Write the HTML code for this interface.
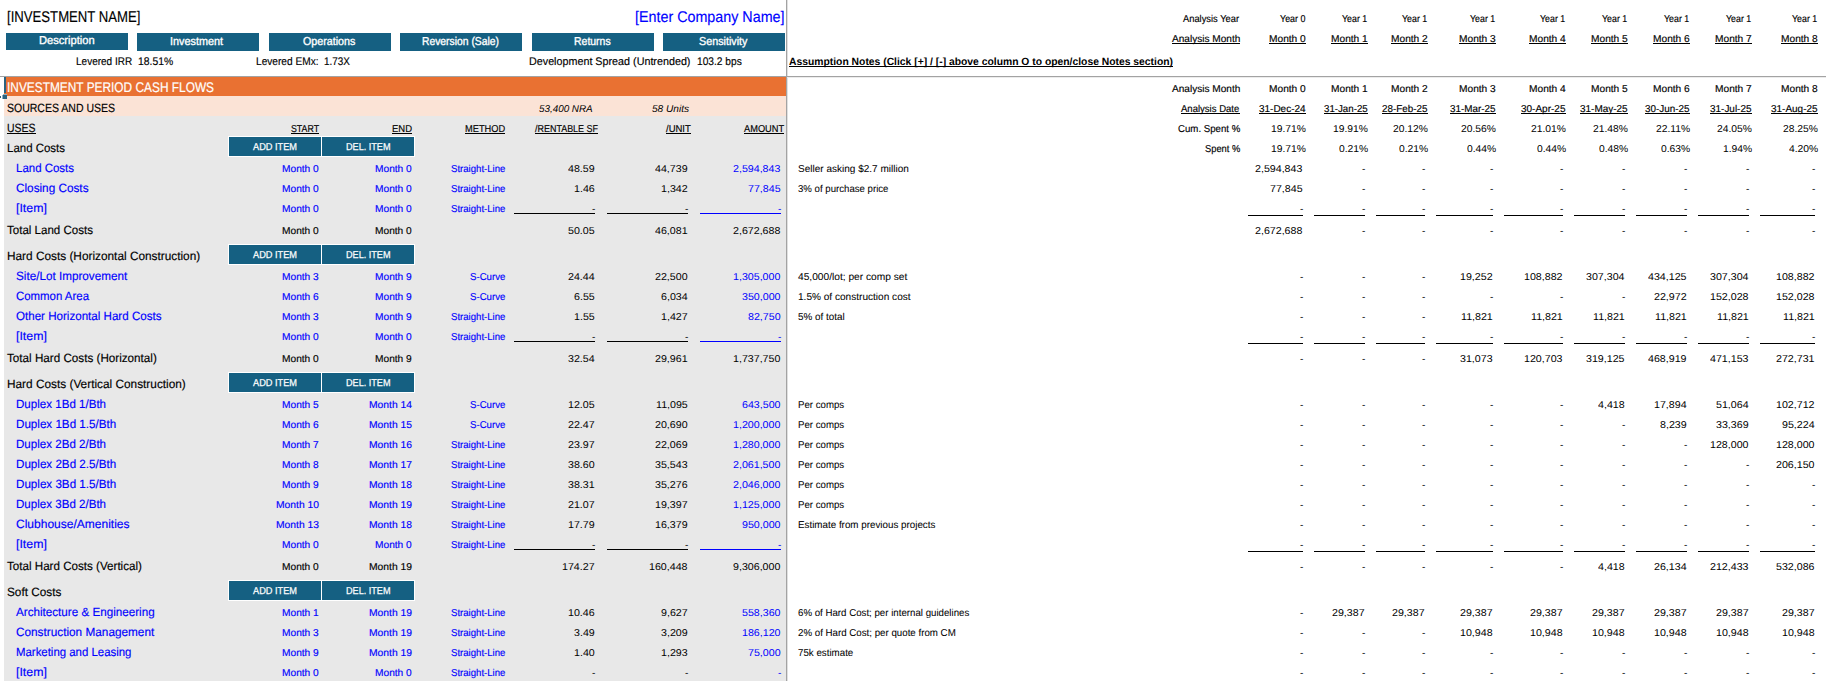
<!DOCTYPE html><html><head><meta charset="utf-8"><title>Investment Period Cash Flows</title><style>
html,body{margin:0;padding:0;background:#fff;}body{width:1826px;height:681px;position:relative;overflow:hidden;font-family:"Liberation Sans",sans-serif;text-rendering:geometricPrecision;}
.r{position:absolute;}.t{position:absolute;white-space:pre;line-height:1;transform-origin:0 0;}
</style></head><body>
<div class="r" style="left:4px;top:77px;width:782px;height:19px;background:#e97132"></div>
<div class="r" style="left:4px;top:96px;width:782px;height:20px;background:#fbe3d6"></div>
<div class="r" style="left:4px;top:116px;width:782px;height:565px;background:#e8e8e8"></div>
<div class="r" style="left:786px;top:0px;width:1px;height:681px;background:#a3a3a3"></div>
<div class="r" style="left:787px;top:0px;width:1px;height:681px;background:#e0e0e0"></div>
<div class="r" style="left:0px;top:76px;width:1826px;height:1px;background:#a3a3a3"></div>
<div class="r" style="left:787px;top:77px;width:1039px;height:1px;background:#ececec"></div>
<div class="r" style="left:4px;top:77px;width:1.9px;height:15.7px;background:#2b6380"></div>
<div class="r" style="left:2px;top:93.7px;width:5.2px;height:5.3px;background:#ffffff"></div>
<div class="r" style="left:3px;top:95px;width:4px;height:4px;background:#2b6380"></div>
<div class="r" style="left:2px;top:95px;width:1px;height:4px;background:#8fb0c2"></div>
<div class="r" style="left:3px;top:94px;width:4px;height:1px;background:#8fb0c2"></div>
<div class="r" style="left:0px;top:96.2px;width:0.6px;height:1.5px;background:#2b6380"></div>
<div class="r" style="left:6px;top:33px;width:122px;height:17px;background:#156082"></div>
<div class="r" style="left:137px;top:33px;width:122px;height:18px;background:#156082"></div>
<div class="r" style="left:269px;top:33px;width:122px;height:18px;background:#156082"></div>
<div class="r" style="left:400px;top:33px;width:122px;height:18px;background:#156082"></div>
<div class="r" style="left:532px;top:33px;width:122px;height:18px;background:#156082"></div>
<div class="r" style="left:663px;top:33px;width:122px;height:18px;background:#156082"></div>
<div class="r" style="left:228px;top:136px;width:187px;height:21px;background:#fff"></div>
<div class="r" style="left:229px;top:137px;width:92px;height:19px;background:#156082"></div>
<div class="r" style="left:322px;top:137px;width:92px;height:19px;background:#156082"></div>
<div class="r" style="left:514px;top:213px;width:81px;height:1px;background:#000"></div>
<div class="r" style="left:607px;top:213px;width:81px;height:1px;background:#000"></div>
<div class="r" style="left:700px;top:213px;width:81px;height:1px;background:#0000ff"></div>
<div class="r" style="left:1248px;top:215px;width:55px;height:1px;background:#000"></div>
<div class="r" style="left:1314px;top:215px;width:51px;height:1px;background:#000"></div>
<div class="r" style="left:1376px;top:215px;width:49px;height:1px;background:#000"></div>
<div class="r" style="left:1436px;top:215px;width:57px;height:1px;background:#000"></div>
<div class="r" style="left:1504px;top:215px;width:59px;height:1px;background:#000"></div>
<div class="r" style="left:1574px;top:215px;width:51px;height:1px;background:#000"></div>
<div class="r" style="left:1636px;top:215px;width:51px;height:1px;background:#000"></div>
<div class="r" style="left:1698px;top:215px;width:51px;height:1px;background:#000"></div>
<div class="r" style="left:1760px;top:215px;width:55px;height:1px;background:#000"></div>
<div class="r" style="left:228px;top:244px;width:187px;height:21px;background:#fff"></div>
<div class="r" style="left:229px;top:245px;width:92px;height:19px;background:#156082"></div>
<div class="r" style="left:322px;top:245px;width:92px;height:19px;background:#156082"></div>
<div class="r" style="left:514px;top:341px;width:81px;height:1px;background:#000"></div>
<div class="r" style="left:607px;top:341px;width:81px;height:1px;background:#000"></div>
<div class="r" style="left:700px;top:341px;width:81px;height:1px;background:#0000ff"></div>
<div class="r" style="left:1248px;top:343px;width:55px;height:1px;background:#000"></div>
<div class="r" style="left:1314px;top:343px;width:51px;height:1px;background:#000"></div>
<div class="r" style="left:1376px;top:343px;width:49px;height:1px;background:#000"></div>
<div class="r" style="left:1436px;top:343px;width:57px;height:1px;background:#000"></div>
<div class="r" style="left:1504px;top:343px;width:59px;height:1px;background:#000"></div>
<div class="r" style="left:1574px;top:343px;width:51px;height:1px;background:#000"></div>
<div class="r" style="left:1636px;top:343px;width:51px;height:1px;background:#000"></div>
<div class="r" style="left:1698px;top:343px;width:51px;height:1px;background:#000"></div>
<div class="r" style="left:1760px;top:343px;width:55px;height:1px;background:#000"></div>
<div class="r" style="left:228px;top:372px;width:187px;height:21px;background:#fff"></div>
<div class="r" style="left:229px;top:373px;width:92px;height:19px;background:#156082"></div>
<div class="r" style="left:322px;top:373px;width:92px;height:19px;background:#156082"></div>
<div class="r" style="left:514px;top:549px;width:81px;height:1px;background:#000"></div>
<div class="r" style="left:607px;top:549px;width:81px;height:1px;background:#000"></div>
<div class="r" style="left:700px;top:549px;width:81px;height:1px;background:#0000ff"></div>
<div class="r" style="left:1248px;top:551px;width:55px;height:1px;background:#000"></div>
<div class="r" style="left:1314px;top:551px;width:51px;height:1px;background:#000"></div>
<div class="r" style="left:1376px;top:551px;width:49px;height:1px;background:#000"></div>
<div class="r" style="left:1436px;top:551px;width:57px;height:1px;background:#000"></div>
<div class="r" style="left:1504px;top:551px;width:59px;height:1px;background:#000"></div>
<div class="r" style="left:1574px;top:551px;width:51px;height:1px;background:#000"></div>
<div class="r" style="left:1636px;top:551px;width:51px;height:1px;background:#000"></div>
<div class="r" style="left:1698px;top:551px;width:51px;height:1px;background:#000"></div>
<div class="r" style="left:1760px;top:551px;width:55px;height:1px;background:#000"></div>
<div class="r" style="left:228px;top:580px;width:187px;height:21px;background:#fff"></div>
<div class="r" style="left:229px;top:581px;width:92px;height:19px;background:#156082"></div>
<div class="r" style="left:322px;top:581px;width:92px;height:19px;background:#156082"></div>
<span class="t" style="left:38.55px;top:36px;font-size:11.5px;color:#fff;transform:scaleX(0.9680);-webkit-text-stroke:0.35px #fff;">Description</span>
<span class="t" style="left:169.86px;top:37px;font-size:11.5px;color:#fff;transform:scaleX(0.9420);-webkit-text-stroke:0.35px #fff;">Investment</span>
<span class="t" style="left:302.90px;top:37px;font-size:11.5px;color:#fff;transform:scaleX(0.9309);-webkit-text-stroke:0.35px #fff;">Operations</span>
<span class="t" style="left:421.65px;top:37px;font-size:11.5px;color:#fff;transform:scaleX(0.8985);-webkit-text-stroke:0.35px #fff;">Reversion (Sale)</span>
<span class="t" style="left:573.75px;top:37px;font-size:11.5px;color:#fff;transform:scaleX(0.9107);-webkit-text-stroke:0.35px #fff;">Returns</span>
<span class="t" style="left:698.85px;top:37px;font-size:11.5px;color:#fff;transform:scaleX(0.9362);-webkit-text-stroke:0.35px #fff;">Sensitivity</span>
<span class="t" style="left:6.85px;top:10px;font-size:15.5px;color:#000;transform:scaleX(0.8480);-webkit-text-stroke:0.15px #000;">[INVESTMENT NAME]</span>
<span class="t" style="left:634.58px;top:10px;font-size:15.5px;color:#0000ff;transform:scaleX(0.9231);-webkit-text-stroke:0.15px #0000ff;">[Enter Company Name]</span>
<span class="t" style="left:75.90px;top:57px;font-size:11px;color:#000;transform:scaleX(0.9093);-webkit-text-stroke:0.15px #000;">Levered IRR</span>
<span class="t" style="left:137.90px;top:57px;font-size:11px;color:#000;transform:scaleX(0.9407);-webkit-text-stroke:0.15px #000;">18.51%</span>
<span class="t" style="left:256.20px;top:57px;font-size:11px;color:#000;transform:scaleX(0.9217);-webkit-text-stroke:0.15px #000;">Levered EMx:</span>
<span class="t" style="left:324.40px;top:57px;font-size:11px;color:#000;transform:scaleX(0.9011);-webkit-text-stroke:0.15px #000;">1.73X</span>
<span class="t" style="left:529.30px;top:57px;font-size:11px;color:#000;transform:scaleX(0.9779);-webkit-text-stroke:0.15px #000;">Development Spread (Untrended)</span>
<span class="t" style="left:696.70px;top:57px;font-size:11px;color:#000;transform:scaleX(0.9259);-webkit-text-stroke:0.15px #000;">103.2 bps</span>
<span class="t" style="left:789.10px;top:57px;font-size:10.5px;font-weight:bold;color:#000;transform:scaleX(0.9846);">Assumption Notes (Click [+] / [-] above column O to open/close Notes section)</span>
<div class="r" style="left:789px;top:66px;width:384px;height:1px;background:#000"></div>
<span class="t" style="left:6.75px;top:80px;font-size:14px;color:#fff;transform:scaleX(0.8485);-webkit-text-stroke:0.2px #fff;">INVESTMENT PERIOD CASH FLOWS</span>
<span class="t" style="left:6.80px;top:102px;font-size:12px;color:#000;transform:scaleX(0.8755);-webkit-text-stroke:0.15px #000;">SOURCES AND USES</span>
<span class="t" style="left:538.90px;top:105px;font-size:10px;font-style:italic;color:#000;transform:scaleX(0.9853);">53,400 NRA</span>
<span class="t" style="left:651.80px;top:105px;font-size:10px;font-style:italic;color:#000;transform:scaleX(1.0086);">58 Units</span>
<span class="t" style="left:6.90px;top:122px;font-size:12px;color:#000;transform:scaleX(0.8692);-webkit-text-stroke:0.15px #000;">USES</span>
<div class="r" style="left:7px;top:133px;width:29px;height:1px;background:#000"></div>
<span class="t" style="left:291.10px;top:125px;font-size:10px;color:#000;transform:scaleX(0.8788);-webkit-text-stroke:0.15px #000;">START</span>
<div class="r" style="left:291px;top:133px;width:28px;height:1px;background:#000"></div>
<span class="t" style="left:392.20px;top:125px;font-size:10px;color:#000;transform:scaleX(0.9477);-webkit-text-stroke:0.15px #000;">END</span>
<div class="r" style="left:392px;top:133px;width:20px;height:1px;background:#000"></div>
<span class="t" style="left:465.10px;top:125px;font-size:10px;color:#000;transform:scaleX(0.9256);-webkit-text-stroke:0.15px #000;">METHOD</span>
<div class="r" style="left:465px;top:133px;width:40px;height:1px;background:#000"></div>
<span class="t" style="left:535.10px;top:125px;font-size:10px;color:#000;transform:scaleX(0.8950);-webkit-text-stroke:0.15px #000;">/RENTABLE SF</span>
<div class="r" style="left:535px;top:133px;width:63px;height:1px;background:#000"></div>
<span class="t" style="left:666.30px;top:125px;font-size:10px;color:#000;transform:scaleX(0.9500);-webkit-text-stroke:0.15px #000;">/UNIT</span>
<div class="r" style="left:666px;top:133px;width:25px;height:1px;background:#000"></div>
<span class="t" style="left:744.00px;top:125px;font-size:10px;color:#000;transform:scaleX(0.9255);-webkit-text-stroke:0.15px #000;">AMOUNT</span>
<div class="r" style="left:744px;top:133px;width:40px;height:1px;background:#000"></div>
<span class="t" style="left:1183.30px;top:15px;font-size:10px;color:#000;transform:scaleX(0.9340);-webkit-text-stroke:0.15px #000;">Analysis Year</span>
<span class="t" style="left:1172.20px;top:35px;font-size:10px;color:#000;transform:scaleX(1.0082);-webkit-text-stroke:0.15px #000;">Analysis Month</span>
<div class="r" style="left:1172px;top:43px;width:68px;height:1px;background:#000"></div>
<span class="t" style="left:1172.20px;top:85px;font-size:10px;color:#000;transform:scaleX(1.0082);-webkit-text-stroke:0.15px #000;">Analysis Month</span>
<span class="t" style="left:1181.30px;top:105px;font-size:10px;color:#000;transform:scaleX(0.9533);-webkit-text-stroke:0.15px #000;">Analysis Date</span>
<div class="r" style="left:1181px;top:113px;width:59px;height:1px;background:#000"></div>
<span class="t" style="left:1177.60px;top:125px;font-size:10px;color:#000;transform:scaleX(0.9662);-webkit-text-stroke:0.15px #000;">Cum. Spent %</span>
<span class="t" style="left:1204.60px;top:145px;font-size:10px;color:#000;transform:scaleX(0.9338);-webkit-text-stroke:0.15px #000;">Spent %</span>
<span class="t" style="left:1280.10px;top:15px;font-size:10px;color:#000;transform:scaleX(0.8936);-webkit-text-stroke:0.15px #000;">Year 0</span>
<span class="t" style="left:1268.80px;top:35px;font-size:10px;color:#000;transform:scaleX(1.0172);-webkit-text-stroke:0.15px #000;">Month 0</span>
<div class="r" style="left:1269px;top:43px;width:37px;height:1px;background:#000"></div>
<span class="t" style="left:1268.80px;top:85px;font-size:10px;color:#000;transform:scaleX(1.0172);-webkit-text-stroke:0.15px #000;">Month 0</span>
<span class="t" style="left:1259.00px;top:105px;font-size:10px;color:#000;transform:scaleX(0.9973);-webkit-text-stroke:0.15px #000;">31-Dec-24</span>
<div class="r" style="left:1259px;top:113px;width:47px;height:1px;background:#000"></div>
<span class="t" style="left:1270.95px;top:125px;font-size:10px;color:#000;transform:scaleX(1.0300);">19.71%</span>
<span class="t" style="left:1270.95px;top:145px;font-size:10px;color:#000;transform:scaleX(1.0300);">19.71%</span>
<span class="t" style="left:1342.40px;top:15px;font-size:10px;color:#000;transform:scaleX(0.8833);-webkit-text-stroke:0.15px #000;">Year 1</span>
<span class="t" style="left:1330.80px;top:35px;font-size:10px;color:#000;transform:scaleX(1.0172);-webkit-text-stroke:0.15px #000;">Month 1</span>
<div class="r" style="left:1331px;top:43px;width:37px;height:1px;background:#000"></div>
<span class="t" style="left:1330.80px;top:85px;font-size:10px;color:#000;transform:scaleX(1.0172);-webkit-text-stroke:0.15px #000;">Month 1</span>
<span class="t" style="left:1323.90px;top:105px;font-size:10px;color:#000;transform:scaleX(0.9699);-webkit-text-stroke:0.15px #000;">31-Jan-25</span>
<div class="r" style="left:1324px;top:113px;width:44px;height:1px;background:#000"></div>
<span class="t" style="left:1332.95px;top:125px;font-size:10px;color:#000;transform:scaleX(1.0300);">19.91%</span>
<span class="t" style="left:1338.68px;top:145px;font-size:10px;color:#000;transform:scaleX(1.0300);">0.21%</span>
<span class="t" style="left:1402.40px;top:15px;font-size:10px;color:#000;transform:scaleX(0.8833);-webkit-text-stroke:0.15px #000;">Year 1</span>
<span class="t" style="left:1390.80px;top:35px;font-size:10px;color:#000;transform:scaleX(1.0172);-webkit-text-stroke:0.15px #000;">Month 2</span>
<div class="r" style="left:1391px;top:43px;width:37px;height:1px;background:#000"></div>
<span class="t" style="left:1390.80px;top:85px;font-size:10px;color:#000;transform:scaleX(1.0172);-webkit-text-stroke:0.15px #000;">Month 2</span>
<span class="t" style="left:1382.00px;top:105px;font-size:10px;color:#000;transform:scaleX(0.9876);-webkit-text-stroke:0.15px #000;">28-Feb-25</span>
<div class="r" style="left:1382px;top:113px;width:46px;height:1px;background:#000"></div>
<span class="t" style="left:1392.95px;top:125px;font-size:10px;color:#000;transform:scaleX(1.0300);">20.12%</span>
<span class="t" style="left:1398.68px;top:145px;font-size:10px;color:#000;transform:scaleX(1.0300);">0.21%</span>
<span class="t" style="left:1470.40px;top:15px;font-size:10px;color:#000;transform:scaleX(0.8833);-webkit-text-stroke:0.15px #000;">Year 1</span>
<span class="t" style="left:1458.80px;top:35px;font-size:10px;color:#000;transform:scaleX(1.0172);-webkit-text-stroke:0.15px #000;">Month 3</span>
<div class="r" style="left:1459px;top:43px;width:37px;height:1px;background:#000"></div>
<span class="t" style="left:1458.80px;top:85px;font-size:10px;color:#000;transform:scaleX(1.0172);-webkit-text-stroke:0.15px #000;">Month 3</span>
<span class="t" style="left:1450.00px;top:105px;font-size:10px;color:#000;transform:scaleX(0.9878);-webkit-text-stroke:0.15px #000;">31-Mar-25</span>
<div class="r" style="left:1450px;top:113px;width:46px;height:1px;background:#000"></div>
<span class="t" style="left:1460.95px;top:125px;font-size:10px;color:#000;transform:scaleX(1.0300);">20.56%</span>
<span class="t" style="left:1466.68px;top:145px;font-size:10px;color:#000;transform:scaleX(1.0300);">0.44%</span>
<span class="t" style="left:1540.40px;top:15px;font-size:10px;color:#000;transform:scaleX(0.8833);-webkit-text-stroke:0.15px #000;">Year 1</span>
<span class="t" style="left:1528.80px;top:35px;font-size:10px;color:#000;transform:scaleX(1.0172);-webkit-text-stroke:0.15px #000;">Month 4</span>
<div class="r" style="left:1529px;top:43px;width:37px;height:1px;background:#000"></div>
<span class="t" style="left:1528.80px;top:85px;font-size:10px;color:#000;transform:scaleX(1.0172);-webkit-text-stroke:0.15px #000;">Month 4</span>
<span class="t" style="left:1521.10px;top:105px;font-size:10px;color:#000;transform:scaleX(0.9999);-webkit-text-stroke:0.15px #000;">30-Apr-25</span>
<div class="r" style="left:1521px;top:113px;width:45px;height:1px;background:#000"></div>
<span class="t" style="left:1530.95px;top:125px;font-size:10px;color:#000;transform:scaleX(1.0300);">21.01%</span>
<span class="t" style="left:1536.68px;top:145px;font-size:10px;color:#000;transform:scaleX(1.0300);">0.44%</span>
<span class="t" style="left:1602.40px;top:15px;font-size:10px;color:#000;transform:scaleX(0.8833);-webkit-text-stroke:0.15px #000;">Year 1</span>
<span class="t" style="left:1590.80px;top:35px;font-size:10px;color:#000;transform:scaleX(1.0172);-webkit-text-stroke:0.15px #000;">Month 5</span>
<div class="r" style="left:1591px;top:43px;width:37px;height:1px;background:#000"></div>
<span class="t" style="left:1590.80px;top:85px;font-size:10px;color:#000;transform:scaleX(1.0172);-webkit-text-stroke:0.15px #000;">Month 5</span>
<span class="t" style="left:1579.90px;top:105px;font-size:10px;color:#000;transform:scaleX(0.9972);-webkit-text-stroke:0.15px #000;">31-May-25</span>
<div class="r" style="left:1580px;top:113px;width:48px;height:1px;background:#000"></div>
<span class="t" style="left:1592.95px;top:125px;font-size:10px;color:#000;transform:scaleX(1.0300);">21.48%</span>
<span class="t" style="left:1598.68px;top:145px;font-size:10px;color:#000;transform:scaleX(1.0300);">0.48%</span>
<span class="t" style="left:1664.40px;top:15px;font-size:10px;color:#000;transform:scaleX(0.8833);-webkit-text-stroke:0.15px #000;">Year 1</span>
<span class="t" style="left:1652.80px;top:35px;font-size:10px;color:#000;transform:scaleX(1.0172);-webkit-text-stroke:0.15px #000;">Month 6</span>
<div class="r" style="left:1653px;top:43px;width:37px;height:1px;background:#000"></div>
<span class="t" style="left:1652.80px;top:85px;font-size:10px;color:#000;transform:scaleX(1.0172);-webkit-text-stroke:0.15px #000;">Month 6</span>
<span class="t" style="left:1645.10px;top:105px;font-size:10px;color:#000;transform:scaleX(0.9875);-webkit-text-stroke:0.15px #000;">30-Jun-25</span>
<div class="r" style="left:1645px;top:113px;width:45px;height:1px;background:#000"></div>
<span class="t" style="left:1655.72px;top:125px;font-size:10px;color:#000;transform:scaleX(1.0300);">22.11%</span>
<span class="t" style="left:1660.68px;top:145px;font-size:10px;color:#000;transform:scaleX(1.0300);">0.63%</span>
<span class="t" style="left:1726.40px;top:15px;font-size:10px;color:#000;transform:scaleX(0.8833);-webkit-text-stroke:0.15px #000;">Year 1</span>
<span class="t" style="left:1714.80px;top:35px;font-size:10px;color:#000;transform:scaleX(1.0172);-webkit-text-stroke:0.15px #000;">Month 7</span>
<div class="r" style="left:1715px;top:43px;width:37px;height:1px;background:#000"></div>
<span class="t" style="left:1714.80px;top:85px;font-size:10px;color:#000;transform:scaleX(1.0172);-webkit-text-stroke:0.15px #000;">Month 7</span>
<span class="t" style="left:1710.10px;top:105px;font-size:10px;color:#000;transform:scaleX(0.9946);-webkit-text-stroke:0.15px #000;">31-Jul-25</span>
<div class="r" style="left:1710px;top:113px;width:42px;height:1px;background:#000"></div>
<span class="t" style="left:1716.95px;top:125px;font-size:10px;color:#000;transform:scaleX(1.0300);">24.05%</span>
<span class="t" style="left:1722.68px;top:145px;font-size:10px;color:#000;transform:scaleX(1.0300);">1.94%</span>
<span class="t" style="left:1792.40px;top:15px;font-size:10px;color:#000;transform:scaleX(0.8833);-webkit-text-stroke:0.15px #000;">Year 1</span>
<span class="t" style="left:1780.80px;top:35px;font-size:10px;color:#000;transform:scaleX(1.0172);-webkit-text-stroke:0.15px #000;">Month 8</span>
<div class="r" style="left:1781px;top:43px;width:37px;height:1px;background:#000"></div>
<span class="t" style="left:1780.80px;top:85px;font-size:10px;color:#000;transform:scaleX(1.0172);-webkit-text-stroke:0.15px #000;">Month 8</span>
<span class="t" style="left:1771.00px;top:105px;font-size:10px;color:#000;transform:scaleX(0.9971);-webkit-text-stroke:0.15px #000;">31-Aug-25</span>
<div class="r" style="left:1771px;top:113px;width:47px;height:1px;background:#000"></div>
<span class="t" style="left:1782.95px;top:125px;font-size:10px;color:#000;transform:scaleX(1.0300);">28.25%</span>
<span class="t" style="left:1788.68px;top:145px;font-size:10px;color:#000;transform:scaleX(1.0300);">4.20%</span>
<span class="t" style="left:6.90px;top:142px;font-size:12px;color:#000;transform:scaleX(0.9555);-webkit-text-stroke:0.15px #000;">Land Costs</span>
<span class="t" style="left:253.15px;top:143px;font-size:10px;color:#fff;transform:scaleX(0.9210);-webkit-text-stroke:0.25px #fff;">ADD ITEM</span>
<span class="t" style="left:345.90px;top:143px;font-size:10px;color:#fff;transform:scaleX(0.9101);-webkit-text-stroke:0.25px #fff;">DEL. ITEM</span>
<span class="t" style="left:15.60px;top:162px;font-size:12px;color:#0000ff;transform:scaleX(0.9555);-webkit-text-stroke:0.15px #0000ff;">Land Costs</span>
<span class="t" style="left:282.40px;top:165px;font-size:10px;color:#0000ff;transform:scaleX(1.0172);-webkit-text-stroke:0.15px #0000ff;">Month 0</span>
<span class="t" style="left:375.40px;top:165px;font-size:10px;color:#0000ff;transform:scaleX(1.0172);-webkit-text-stroke:0.15px #0000ff;">Month 0</span>
<span class="t" style="left:450.80px;top:165px;font-size:10px;color:#0000ff;transform:scaleX(0.9591);-webkit-text-stroke:0.15px #0000ff;">Straight-Line</span>
<span class="t" style="left:567.88px;top:165px;font-size:10px;color:#000;transform:scaleX(1.0650);">48.59</span>
<span class="t" style="left:654.96px;top:165px;font-size:10px;color:#000;transform:scaleX(1.0650);">44,739</span>
<span class="t" style="left:733.15px;top:165px;font-size:10px;color:#0000ff;transform:scaleX(1.0650);">2,594,843</span>
<span class="t" style="left:798.30px;top:165px;font-size:10px;color:#000;transform:scaleX(1.0023);-webkit-text-stroke:0.05px #000;">Seller asking $2.7 million</span>
<span class="t" style="left:1255.15px;top:165px;font-size:10px;color:#000;transform:scaleX(1.0650);">2,594,843</span>
<span class="t" style="left:1362.00px;top:165px;font-size:10px;color:#000;transform:scaleX(1.0000);">-</span>
<span class="t" style="left:1422.00px;top:165px;font-size:10px;color:#000;transform:scaleX(1.0000);">-</span>
<span class="t" style="left:1490.00px;top:165px;font-size:10px;color:#000;transform:scaleX(1.0000);">-</span>
<span class="t" style="left:1560.00px;top:165px;font-size:10px;color:#000;transform:scaleX(1.0000);">-</span>
<span class="t" style="left:1622.00px;top:165px;font-size:10px;color:#000;transform:scaleX(1.0000);">-</span>
<span class="t" style="left:1684.00px;top:165px;font-size:10px;color:#000;transform:scaleX(1.0000);">-</span>
<span class="t" style="left:1746.00px;top:165px;font-size:10px;color:#000;transform:scaleX(1.0000);">-</span>
<span class="t" style="left:1812.00px;top:165px;font-size:10px;color:#000;transform:scaleX(1.0000);">-</span>
<span class="t" style="left:15.60px;top:182px;font-size:12px;color:#0000ff;transform:scaleX(0.9794);-webkit-text-stroke:0.15px #0000ff;">Closing Costs</span>
<span class="t" style="left:282.40px;top:185px;font-size:10px;color:#0000ff;transform:scaleX(1.0172);-webkit-text-stroke:0.15px #0000ff;">Month 0</span>
<span class="t" style="left:375.40px;top:185px;font-size:10px;color:#0000ff;transform:scaleX(1.0172);-webkit-text-stroke:0.15px #0000ff;">Month 0</span>
<span class="t" style="left:450.80px;top:185px;font-size:10px;color:#0000ff;transform:scaleX(0.9591);-webkit-text-stroke:0.15px #0000ff;">Straight-Line</span>
<span class="t" style="left:573.81px;top:185px;font-size:10px;color:#000;transform:scaleX(1.0650);">1.46</span>
<span class="t" style="left:660.88px;top:185px;font-size:10px;color:#000;transform:scaleX(1.0650);">1,342</span>
<span class="t" style="left:747.96px;top:185px;font-size:10px;color:#0000ff;transform:scaleX(1.0650);">77,845</span>
<span class="t" style="left:798.30px;top:185px;font-size:10px;color:#000;transform:scaleX(0.9631);-webkit-text-stroke:0.05px #000;">3% of purchase price</span>
<span class="t" style="left:1269.96px;top:185px;font-size:10px;color:#000;transform:scaleX(1.0650);">77,845</span>
<span class="t" style="left:1362.00px;top:185px;font-size:10px;color:#000;transform:scaleX(1.0000);">-</span>
<span class="t" style="left:1422.00px;top:185px;font-size:10px;color:#000;transform:scaleX(1.0000);">-</span>
<span class="t" style="left:1490.00px;top:185px;font-size:10px;color:#000;transform:scaleX(1.0000);">-</span>
<span class="t" style="left:1560.00px;top:185px;font-size:10px;color:#000;transform:scaleX(1.0000);">-</span>
<span class="t" style="left:1622.00px;top:185px;font-size:10px;color:#000;transform:scaleX(1.0000);">-</span>
<span class="t" style="left:1684.00px;top:185px;font-size:10px;color:#000;transform:scaleX(1.0000);">-</span>
<span class="t" style="left:1746.00px;top:185px;font-size:10px;color:#000;transform:scaleX(1.0000);">-</span>
<span class="t" style="left:1812.00px;top:185px;font-size:10px;color:#000;transform:scaleX(1.0000);">-</span>
<span class="t" style="left:15.60px;top:202px;font-size:12px;color:#0000ff;transform:scaleX(1.0279);-webkit-text-stroke:0.15px #0000ff;">[Item]</span>
<span class="t" style="left:282.40px;top:205px;font-size:10px;color:#0000ff;transform:scaleX(1.0172);-webkit-text-stroke:0.15px #0000ff;">Month 0</span>
<span class="t" style="left:375.40px;top:205px;font-size:10px;color:#0000ff;transform:scaleX(1.0172);-webkit-text-stroke:0.15px #0000ff;">Month 0</span>
<span class="t" style="left:450.80px;top:205px;font-size:10px;color:#0000ff;transform:scaleX(0.9591);-webkit-text-stroke:0.15px #0000ff;">Straight-Line</span>
<span class="t" style="left:592.00px;top:205px;font-size:10px;color:#000;transform:scaleX(1.0000);">-</span>
<span class="t" style="left:685.00px;top:205px;font-size:10px;color:#000;transform:scaleX(1.0000);">-</span>
<span class="t" style="left:778.00px;top:205px;font-size:10px;color:#0000ff;transform:scaleX(1.0000);">-</span>
<span class="t" style="left:1300.00px;top:205px;font-size:10px;color:#000;transform:scaleX(1.0000);">-</span>
<span class="t" style="left:1362.00px;top:205px;font-size:10px;color:#000;transform:scaleX(1.0000);">-</span>
<span class="t" style="left:1422.00px;top:205px;font-size:10px;color:#000;transform:scaleX(1.0000);">-</span>
<span class="t" style="left:1490.00px;top:205px;font-size:10px;color:#000;transform:scaleX(1.0000);">-</span>
<span class="t" style="left:1560.00px;top:205px;font-size:10px;color:#000;transform:scaleX(1.0000);">-</span>
<span class="t" style="left:1622.00px;top:205px;font-size:10px;color:#000;transform:scaleX(1.0000);">-</span>
<span class="t" style="left:1684.00px;top:205px;font-size:10px;color:#000;transform:scaleX(1.0000);">-</span>
<span class="t" style="left:1746.00px;top:205px;font-size:10px;color:#000;transform:scaleX(1.0000);">-</span>
<span class="t" style="left:1812.00px;top:205px;font-size:10px;color:#000;transform:scaleX(1.0000);">-</span>
<span class="t" style="left:6.90px;top:224px;font-size:12px;color:#000;transform:scaleX(0.9621);-webkit-text-stroke:0.15px #000;">Total Land Costs</span>
<span class="t" style="left:282.40px;top:227px;font-size:10px;color:#000;transform:scaleX(1.0172);-webkit-text-stroke:0.15px #000;">Month 0</span>
<span class="t" style="left:375.40px;top:227px;font-size:10px;color:#000;transform:scaleX(1.0172);-webkit-text-stroke:0.15px #000;">Month 0</span>
<span class="t" style="left:567.88px;top:227px;font-size:10px;color:#000;transform:scaleX(1.0650);">50.05</span>
<span class="t" style="left:654.96px;top:227px;font-size:10px;color:#000;transform:scaleX(1.0650);">46,081</span>
<span class="t" style="left:733.15px;top:227px;font-size:10px;color:#000;transform:scaleX(1.0650);">2,672,688</span>
<span class="t" style="left:1255.15px;top:227px;font-size:10px;color:#000;transform:scaleX(1.0650);">2,672,688</span>
<span class="t" style="left:1362.00px;top:227px;font-size:10px;color:#000;transform:scaleX(1.0000);">-</span>
<span class="t" style="left:1422.00px;top:227px;font-size:10px;color:#000;transform:scaleX(1.0000);">-</span>
<span class="t" style="left:1490.00px;top:227px;font-size:10px;color:#000;transform:scaleX(1.0000);">-</span>
<span class="t" style="left:1560.00px;top:227px;font-size:10px;color:#000;transform:scaleX(1.0000);">-</span>
<span class="t" style="left:1622.00px;top:227px;font-size:10px;color:#000;transform:scaleX(1.0000);">-</span>
<span class="t" style="left:1684.00px;top:227px;font-size:10px;color:#000;transform:scaleX(1.0000);">-</span>
<span class="t" style="left:1746.00px;top:227px;font-size:10px;color:#000;transform:scaleX(1.0000);">-</span>
<span class="t" style="left:1812.00px;top:227px;font-size:10px;color:#000;transform:scaleX(1.0000);">-</span>
<span class="t" style="left:6.90px;top:250px;font-size:12px;color:#000;transform:scaleX(0.9854);-webkit-text-stroke:0.15px #000;">Hard Costs (Horizontal Construction)</span>
<span class="t" style="left:253.15px;top:251px;font-size:10px;color:#fff;transform:scaleX(0.9210);-webkit-text-stroke:0.25px #fff;">ADD ITEM</span>
<span class="t" style="left:345.90px;top:251px;font-size:10px;color:#fff;transform:scaleX(0.9101);-webkit-text-stroke:0.25px #fff;">DEL. ITEM</span>
<span class="t" style="left:15.60px;top:270px;font-size:12px;color:#0000ff;transform:scaleX(0.9746);-webkit-text-stroke:0.15px #0000ff;">Site/Lot Improvement</span>
<span class="t" style="left:282.40px;top:273px;font-size:10px;color:#0000ff;transform:scaleX(1.0172);-webkit-text-stroke:0.15px #0000ff;">Month 3</span>
<span class="t" style="left:375.40px;top:273px;font-size:10px;color:#0000ff;transform:scaleX(1.0172);-webkit-text-stroke:0.15px #0000ff;">Month 9</span>
<span class="t" style="left:469.80px;top:273px;font-size:10px;color:#0000ff;transform:scaleX(0.9646);-webkit-text-stroke:0.15px #0000ff;">S-Curve</span>
<span class="t" style="left:567.88px;top:273px;font-size:10px;color:#000;transform:scaleX(1.0650);">24.44</span>
<span class="t" style="left:654.96px;top:273px;font-size:10px;color:#000;transform:scaleX(1.0650);">22,500</span>
<span class="t" style="left:733.15px;top:273px;font-size:10px;color:#0000ff;transform:scaleX(1.0650);">1,305,000</span>
<span class="t" style="left:798.30px;top:273px;font-size:10px;color:#000;transform:scaleX(1.0195);-webkit-text-stroke:0.05px #000;">45,000/lot; per comp set</span>
<span class="t" style="left:1300.00px;top:273px;font-size:10px;color:#000;transform:scaleX(1.0000);">-</span>
<span class="t" style="left:1362.00px;top:273px;font-size:10px;color:#000;transform:scaleX(1.0000);">-</span>
<span class="t" style="left:1422.00px;top:273px;font-size:10px;color:#000;transform:scaleX(1.0000);">-</span>
<span class="t" style="left:1459.96px;top:273px;font-size:10px;color:#000;transform:scaleX(1.0650);">19,252</span>
<span class="t" style="left:1524.04px;top:273px;font-size:10px;color:#000;transform:scaleX(1.0650);">108,882</span>
<span class="t" style="left:1586.04px;top:273px;font-size:10px;color:#000;transform:scaleX(1.0650);">307,304</span>
<span class="t" style="left:1648.04px;top:273px;font-size:10px;color:#000;transform:scaleX(1.0650);">434,125</span>
<span class="t" style="left:1710.04px;top:273px;font-size:10px;color:#000;transform:scaleX(1.0650);">307,304</span>
<span class="t" style="left:1776.04px;top:273px;font-size:10px;color:#000;transform:scaleX(1.0650);">108,882</span>
<span class="t" style="left:15.60px;top:290px;font-size:12px;color:#0000ff;transform:scaleX(0.9516);-webkit-text-stroke:0.15px #0000ff;">Common Area</span>
<span class="t" style="left:282.40px;top:293px;font-size:10px;color:#0000ff;transform:scaleX(1.0172);-webkit-text-stroke:0.15px #0000ff;">Month 6</span>
<span class="t" style="left:375.40px;top:293px;font-size:10px;color:#0000ff;transform:scaleX(1.0172);-webkit-text-stroke:0.15px #0000ff;">Month 9</span>
<span class="t" style="left:469.80px;top:293px;font-size:10px;color:#0000ff;transform:scaleX(0.9646);-webkit-text-stroke:0.15px #0000ff;">S-Curve</span>
<span class="t" style="left:573.81px;top:293px;font-size:10px;color:#000;transform:scaleX(1.0650);">6.55</span>
<span class="t" style="left:660.88px;top:293px;font-size:10px;color:#000;transform:scaleX(1.0650);">6,034</span>
<span class="t" style="left:742.04px;top:293px;font-size:10px;color:#0000ff;transform:scaleX(1.0650);">350,000</span>
<span class="t" style="left:798.30px;top:293px;font-size:10px;color:#000;transform:scaleX(1.0076);-webkit-text-stroke:0.05px #000;">1.5% of construction cost</span>
<span class="t" style="left:1300.00px;top:293px;font-size:10px;color:#000;transform:scaleX(1.0000);">-</span>
<span class="t" style="left:1362.00px;top:293px;font-size:10px;color:#000;transform:scaleX(1.0000);">-</span>
<span class="t" style="left:1422.00px;top:293px;font-size:10px;color:#000;transform:scaleX(1.0000);">-</span>
<span class="t" style="left:1490.00px;top:293px;font-size:10px;color:#000;transform:scaleX(1.0000);">-</span>
<span class="t" style="left:1560.00px;top:293px;font-size:10px;color:#000;transform:scaleX(1.0000);">-</span>
<span class="t" style="left:1622.00px;top:293px;font-size:10px;color:#000;transform:scaleX(1.0000);">-</span>
<span class="t" style="left:1653.96px;top:293px;font-size:10px;color:#000;transform:scaleX(1.0650);">22,972</span>
<span class="t" style="left:1710.04px;top:293px;font-size:10px;color:#000;transform:scaleX(1.0650);">152,028</span>
<span class="t" style="left:1776.04px;top:293px;font-size:10px;color:#000;transform:scaleX(1.0650);">152,028</span>
<span class="t" style="left:15.60px;top:310px;font-size:12px;color:#0000ff;transform:scaleX(0.9654);-webkit-text-stroke:0.15px #0000ff;">Other Horizontal Hard Costs</span>
<span class="t" style="left:282.40px;top:313px;font-size:10px;color:#0000ff;transform:scaleX(1.0172);-webkit-text-stroke:0.15px #0000ff;">Month 3</span>
<span class="t" style="left:375.40px;top:313px;font-size:10px;color:#0000ff;transform:scaleX(1.0172);-webkit-text-stroke:0.15px #0000ff;">Month 9</span>
<span class="t" style="left:450.80px;top:313px;font-size:10px;color:#0000ff;transform:scaleX(0.9591);-webkit-text-stroke:0.15px #0000ff;">Straight-Line</span>
<span class="t" style="left:573.81px;top:313px;font-size:10px;color:#000;transform:scaleX(1.0650);">1.55</span>
<span class="t" style="left:660.88px;top:313px;font-size:10px;color:#000;transform:scaleX(1.0650);">1,427</span>
<span class="t" style="left:747.96px;top:313px;font-size:10px;color:#0000ff;transform:scaleX(1.0650);">82,750</span>
<span class="t" style="left:798.30px;top:313px;font-size:10px;color:#000;transform:scaleX(0.9887);-webkit-text-stroke:0.05px #000;">5% of total</span>
<span class="t" style="left:1300.00px;top:313px;font-size:10px;color:#000;transform:scaleX(1.0000);">-</span>
<span class="t" style="left:1362.00px;top:313px;font-size:10px;color:#000;transform:scaleX(1.0000);">-</span>
<span class="t" style="left:1422.00px;top:313px;font-size:10px;color:#000;transform:scaleX(1.0000);">-</span>
<span class="t" style="left:1460.75px;top:313px;font-size:10px;color:#000;transform:scaleX(1.0650);">11,821</span>
<span class="t" style="left:1530.75px;top:313px;font-size:10px;color:#000;transform:scaleX(1.0650);">11,821</span>
<span class="t" style="left:1592.75px;top:313px;font-size:10px;color:#000;transform:scaleX(1.0650);">11,821</span>
<span class="t" style="left:1654.75px;top:313px;font-size:10px;color:#000;transform:scaleX(1.0650);">11,821</span>
<span class="t" style="left:1716.75px;top:313px;font-size:10px;color:#000;transform:scaleX(1.0650);">11,821</span>
<span class="t" style="left:1782.75px;top:313px;font-size:10px;color:#000;transform:scaleX(1.0650);">11,821</span>
<span class="t" style="left:15.60px;top:330px;font-size:12px;color:#0000ff;transform:scaleX(1.0279);-webkit-text-stroke:0.15px #0000ff;">[Item]</span>
<span class="t" style="left:282.40px;top:333px;font-size:10px;color:#0000ff;transform:scaleX(1.0172);-webkit-text-stroke:0.15px #0000ff;">Month 0</span>
<span class="t" style="left:375.40px;top:333px;font-size:10px;color:#0000ff;transform:scaleX(1.0172);-webkit-text-stroke:0.15px #0000ff;">Month 0</span>
<span class="t" style="left:450.80px;top:333px;font-size:10px;color:#0000ff;transform:scaleX(0.9591);-webkit-text-stroke:0.15px #0000ff;">Straight-Line</span>
<span class="t" style="left:592.00px;top:333px;font-size:10px;color:#000;transform:scaleX(1.0000);">-</span>
<span class="t" style="left:685.00px;top:333px;font-size:10px;color:#000;transform:scaleX(1.0000);">-</span>
<span class="t" style="left:778.00px;top:333px;font-size:10px;color:#0000ff;transform:scaleX(1.0000);">-</span>
<span class="t" style="left:1300.00px;top:333px;font-size:10px;color:#000;transform:scaleX(1.0000);">-</span>
<span class="t" style="left:1362.00px;top:333px;font-size:10px;color:#000;transform:scaleX(1.0000);">-</span>
<span class="t" style="left:1422.00px;top:333px;font-size:10px;color:#000;transform:scaleX(1.0000);">-</span>
<span class="t" style="left:1490.00px;top:333px;font-size:10px;color:#000;transform:scaleX(1.0000);">-</span>
<span class="t" style="left:1560.00px;top:333px;font-size:10px;color:#000;transform:scaleX(1.0000);">-</span>
<span class="t" style="left:1622.00px;top:333px;font-size:10px;color:#000;transform:scaleX(1.0000);">-</span>
<span class="t" style="left:1684.00px;top:333px;font-size:10px;color:#000;transform:scaleX(1.0000);">-</span>
<span class="t" style="left:1746.00px;top:333px;font-size:10px;color:#000;transform:scaleX(1.0000);">-</span>
<span class="t" style="left:1812.00px;top:333px;font-size:10px;color:#000;transform:scaleX(1.0000);">-</span>
<span class="t" style="left:6.90px;top:352px;font-size:12px;color:#000;transform:scaleX(0.9724);-webkit-text-stroke:0.15px #000;">Total Hard Costs (Horizontal)</span>
<span class="t" style="left:282.40px;top:355px;font-size:10px;color:#000;transform:scaleX(1.0172);-webkit-text-stroke:0.15px #000;">Month 0</span>
<span class="t" style="left:375.40px;top:355px;font-size:10px;color:#000;transform:scaleX(1.0172);-webkit-text-stroke:0.15px #000;">Month 9</span>
<span class="t" style="left:567.88px;top:355px;font-size:10px;color:#000;transform:scaleX(1.0650);">32.54</span>
<span class="t" style="left:654.96px;top:355px;font-size:10px;color:#000;transform:scaleX(1.0650);">29,961</span>
<span class="t" style="left:733.15px;top:355px;font-size:10px;color:#000;transform:scaleX(1.0650);">1,737,750</span>
<span class="t" style="left:1300.00px;top:355px;font-size:10px;color:#000;transform:scaleX(1.0000);">-</span>
<span class="t" style="left:1362.00px;top:355px;font-size:10px;color:#000;transform:scaleX(1.0000);">-</span>
<span class="t" style="left:1422.00px;top:355px;font-size:10px;color:#000;transform:scaleX(1.0000);">-</span>
<span class="t" style="left:1459.96px;top:355px;font-size:10px;color:#000;transform:scaleX(1.0650);">31,073</span>
<span class="t" style="left:1524.04px;top:355px;font-size:10px;color:#000;transform:scaleX(1.0650);">120,703</span>
<span class="t" style="left:1586.04px;top:355px;font-size:10px;color:#000;transform:scaleX(1.0650);">319,125</span>
<span class="t" style="left:1648.04px;top:355px;font-size:10px;color:#000;transform:scaleX(1.0650);">468,919</span>
<span class="t" style="left:1710.04px;top:355px;font-size:10px;color:#000;transform:scaleX(1.0650);">471,153</span>
<span class="t" style="left:1776.04px;top:355px;font-size:10px;color:#000;transform:scaleX(1.0650);">272,731</span>
<span class="t" style="left:6.90px;top:378px;font-size:12px;color:#000;transform:scaleX(0.9857);-webkit-text-stroke:0.15px #000;">Hard Costs (Vertical Construction)</span>
<span class="t" style="left:253.15px;top:379px;font-size:10px;color:#fff;transform:scaleX(0.9210);-webkit-text-stroke:0.25px #fff;">ADD ITEM</span>
<span class="t" style="left:345.90px;top:379px;font-size:10px;color:#fff;transform:scaleX(0.9101);-webkit-text-stroke:0.25px #fff;">DEL. ITEM</span>
<span class="t" style="left:15.60px;top:398px;font-size:12px;color:#0000ff;transform:scaleX(0.9642);-webkit-text-stroke:0.15px #0000ff;">Duplex 1Bd 1/Bth</span>
<span class="t" style="left:282.40px;top:401px;font-size:10px;color:#0000ff;transform:scaleX(1.0172);-webkit-text-stroke:0.15px #0000ff;">Month 5</span>
<span class="t" style="left:369.10px;top:401px;font-size:10px;color:#0000ff;transform:scaleX(1.0324);-webkit-text-stroke:0.15px #0000ff;">Month 14</span>
<span class="t" style="left:469.80px;top:401px;font-size:10px;color:#0000ff;transform:scaleX(0.9646);-webkit-text-stroke:0.15px #0000ff;">S-Curve</span>
<span class="t" style="left:567.88px;top:401px;font-size:10px;color:#000;transform:scaleX(1.0650);">12.05</span>
<span class="t" style="left:655.75px;top:401px;font-size:10px;color:#000;transform:scaleX(1.0650);">11,095</span>
<span class="t" style="left:742.04px;top:401px;font-size:10px;color:#0000ff;transform:scaleX(1.0650);">643,500</span>
<span class="t" style="left:798.30px;top:401px;font-size:10px;color:#000;transform:scaleX(0.9667);-webkit-text-stroke:0.05px #000;">Per comps</span>
<span class="t" style="left:1300.00px;top:401px;font-size:10px;color:#000;transform:scaleX(1.0000);">-</span>
<span class="t" style="left:1362.00px;top:401px;font-size:10px;color:#000;transform:scaleX(1.0000);">-</span>
<span class="t" style="left:1422.00px;top:401px;font-size:10px;color:#000;transform:scaleX(1.0000);">-</span>
<span class="t" style="left:1490.00px;top:401px;font-size:10px;color:#000;transform:scaleX(1.0000);">-</span>
<span class="t" style="left:1560.00px;top:401px;font-size:10px;color:#000;transform:scaleX(1.0000);">-</span>
<span class="t" style="left:1597.88px;top:401px;font-size:10px;color:#000;transform:scaleX(1.0650);">4,418</span>
<span class="t" style="left:1653.96px;top:401px;font-size:10px;color:#000;transform:scaleX(1.0650);">17,894</span>
<span class="t" style="left:1715.96px;top:401px;font-size:10px;color:#000;transform:scaleX(1.0650);">51,064</span>
<span class="t" style="left:1776.04px;top:401px;font-size:10px;color:#000;transform:scaleX(1.0650);">102,712</span>
<span class="t" style="left:15.60px;top:418px;font-size:12px;color:#0000ff;transform:scaleX(0.9686);-webkit-text-stroke:0.15px #0000ff;">Duplex 1Bd 1.5/Bth</span>
<span class="t" style="left:282.40px;top:421px;font-size:10px;color:#0000ff;transform:scaleX(1.0172);-webkit-text-stroke:0.15px #0000ff;">Month 6</span>
<span class="t" style="left:369.10px;top:421px;font-size:10px;color:#0000ff;transform:scaleX(1.0324);-webkit-text-stroke:0.15px #0000ff;">Month 15</span>
<span class="t" style="left:469.80px;top:421px;font-size:10px;color:#0000ff;transform:scaleX(0.9646);-webkit-text-stroke:0.15px #0000ff;">S-Curve</span>
<span class="t" style="left:567.88px;top:421px;font-size:10px;color:#000;transform:scaleX(1.0650);">22.47</span>
<span class="t" style="left:654.96px;top:421px;font-size:10px;color:#000;transform:scaleX(1.0650);">20,690</span>
<span class="t" style="left:733.15px;top:421px;font-size:10px;color:#0000ff;transform:scaleX(1.0650);">1,200,000</span>
<span class="t" style="left:798.30px;top:421px;font-size:10px;color:#000;transform:scaleX(0.9667);-webkit-text-stroke:0.05px #000;">Per comps</span>
<span class="t" style="left:1300.00px;top:421px;font-size:10px;color:#000;transform:scaleX(1.0000);">-</span>
<span class="t" style="left:1362.00px;top:421px;font-size:10px;color:#000;transform:scaleX(1.0000);">-</span>
<span class="t" style="left:1422.00px;top:421px;font-size:10px;color:#000;transform:scaleX(1.0000);">-</span>
<span class="t" style="left:1490.00px;top:421px;font-size:10px;color:#000;transform:scaleX(1.0000);">-</span>
<span class="t" style="left:1560.00px;top:421px;font-size:10px;color:#000;transform:scaleX(1.0000);">-</span>
<span class="t" style="left:1622.00px;top:421px;font-size:10px;color:#000;transform:scaleX(1.0000);">-</span>
<span class="t" style="left:1659.88px;top:421px;font-size:10px;color:#000;transform:scaleX(1.0650);">8,239</span>
<span class="t" style="left:1715.96px;top:421px;font-size:10px;color:#000;transform:scaleX(1.0650);">33,369</span>
<span class="t" style="left:1781.96px;top:421px;font-size:10px;color:#000;transform:scaleX(1.0650);">95,224</span>
<span class="t" style="left:15.60px;top:438px;font-size:12px;color:#0000ff;transform:scaleX(0.9642);-webkit-text-stroke:0.15px #0000ff;">Duplex 2Bd 2/Bth</span>
<span class="t" style="left:282.40px;top:441px;font-size:10px;color:#0000ff;transform:scaleX(1.0172);-webkit-text-stroke:0.15px #0000ff;">Month 7</span>
<span class="t" style="left:369.10px;top:441px;font-size:10px;color:#0000ff;transform:scaleX(1.0324);-webkit-text-stroke:0.15px #0000ff;">Month 16</span>
<span class="t" style="left:450.80px;top:441px;font-size:10px;color:#0000ff;transform:scaleX(0.9591);-webkit-text-stroke:0.15px #0000ff;">Straight-Line</span>
<span class="t" style="left:567.88px;top:441px;font-size:10px;color:#000;transform:scaleX(1.0650);">23.97</span>
<span class="t" style="left:654.96px;top:441px;font-size:10px;color:#000;transform:scaleX(1.0650);">22,069</span>
<span class="t" style="left:733.15px;top:441px;font-size:10px;color:#0000ff;transform:scaleX(1.0650);">1,280,000</span>
<span class="t" style="left:798.30px;top:441px;font-size:10px;color:#000;transform:scaleX(0.9667);-webkit-text-stroke:0.05px #000;">Per comps</span>
<span class="t" style="left:1300.00px;top:441px;font-size:10px;color:#000;transform:scaleX(1.0000);">-</span>
<span class="t" style="left:1362.00px;top:441px;font-size:10px;color:#000;transform:scaleX(1.0000);">-</span>
<span class="t" style="left:1422.00px;top:441px;font-size:10px;color:#000;transform:scaleX(1.0000);">-</span>
<span class="t" style="left:1490.00px;top:441px;font-size:10px;color:#000;transform:scaleX(1.0000);">-</span>
<span class="t" style="left:1560.00px;top:441px;font-size:10px;color:#000;transform:scaleX(1.0000);">-</span>
<span class="t" style="left:1622.00px;top:441px;font-size:10px;color:#000;transform:scaleX(1.0000);">-</span>
<span class="t" style="left:1684.00px;top:441px;font-size:10px;color:#000;transform:scaleX(1.0000);">-</span>
<span class="t" style="left:1710.04px;top:441px;font-size:10px;color:#000;transform:scaleX(1.0650);">128,000</span>
<span class="t" style="left:1776.04px;top:441px;font-size:10px;color:#000;transform:scaleX(1.0650);">128,000</span>
<span class="t" style="left:15.60px;top:458px;font-size:12px;color:#0000ff;transform:scaleX(0.9686);-webkit-text-stroke:0.15px #0000ff;">Duplex 2Bd 2.5/Bth</span>
<span class="t" style="left:282.40px;top:461px;font-size:10px;color:#0000ff;transform:scaleX(1.0172);-webkit-text-stroke:0.15px #0000ff;">Month 8</span>
<span class="t" style="left:369.10px;top:461px;font-size:10px;color:#0000ff;transform:scaleX(1.0324);-webkit-text-stroke:0.15px #0000ff;">Month 17</span>
<span class="t" style="left:450.80px;top:461px;font-size:10px;color:#0000ff;transform:scaleX(0.9591);-webkit-text-stroke:0.15px #0000ff;">Straight-Line</span>
<span class="t" style="left:567.88px;top:461px;font-size:10px;color:#000;transform:scaleX(1.0650);">38.60</span>
<span class="t" style="left:654.96px;top:461px;font-size:10px;color:#000;transform:scaleX(1.0650);">35,543</span>
<span class="t" style="left:733.15px;top:461px;font-size:10px;color:#0000ff;transform:scaleX(1.0650);">2,061,500</span>
<span class="t" style="left:798.30px;top:461px;font-size:10px;color:#000;transform:scaleX(0.9667);-webkit-text-stroke:0.05px #000;">Per comps</span>
<span class="t" style="left:1300.00px;top:461px;font-size:10px;color:#000;transform:scaleX(1.0000);">-</span>
<span class="t" style="left:1362.00px;top:461px;font-size:10px;color:#000;transform:scaleX(1.0000);">-</span>
<span class="t" style="left:1422.00px;top:461px;font-size:10px;color:#000;transform:scaleX(1.0000);">-</span>
<span class="t" style="left:1490.00px;top:461px;font-size:10px;color:#000;transform:scaleX(1.0000);">-</span>
<span class="t" style="left:1560.00px;top:461px;font-size:10px;color:#000;transform:scaleX(1.0000);">-</span>
<span class="t" style="left:1622.00px;top:461px;font-size:10px;color:#000;transform:scaleX(1.0000);">-</span>
<span class="t" style="left:1684.00px;top:461px;font-size:10px;color:#000;transform:scaleX(1.0000);">-</span>
<span class="t" style="left:1746.00px;top:461px;font-size:10px;color:#000;transform:scaleX(1.0000);">-</span>
<span class="t" style="left:1776.04px;top:461px;font-size:10px;color:#000;transform:scaleX(1.0650);">206,150</span>
<span class="t" style="left:15.60px;top:478px;font-size:12px;color:#0000ff;transform:scaleX(0.9686);-webkit-text-stroke:0.15px #0000ff;">Duplex 3Bd 1.5/Bth</span>
<span class="t" style="left:282.40px;top:481px;font-size:10px;color:#0000ff;transform:scaleX(1.0172);-webkit-text-stroke:0.15px #0000ff;">Month 9</span>
<span class="t" style="left:369.10px;top:481px;font-size:10px;color:#0000ff;transform:scaleX(1.0324);-webkit-text-stroke:0.15px #0000ff;">Month 18</span>
<span class="t" style="left:450.80px;top:481px;font-size:10px;color:#0000ff;transform:scaleX(0.9591);-webkit-text-stroke:0.15px #0000ff;">Straight-Line</span>
<span class="t" style="left:567.88px;top:481px;font-size:10px;color:#000;transform:scaleX(1.0650);">38.31</span>
<span class="t" style="left:654.96px;top:481px;font-size:10px;color:#000;transform:scaleX(1.0650);">35,276</span>
<span class="t" style="left:733.15px;top:481px;font-size:10px;color:#0000ff;transform:scaleX(1.0650);">2,046,000</span>
<span class="t" style="left:798.30px;top:481px;font-size:10px;color:#000;transform:scaleX(0.9667);-webkit-text-stroke:0.05px #000;">Per comps</span>
<span class="t" style="left:1300.00px;top:481px;font-size:10px;color:#000;transform:scaleX(1.0000);">-</span>
<span class="t" style="left:1362.00px;top:481px;font-size:10px;color:#000;transform:scaleX(1.0000);">-</span>
<span class="t" style="left:1422.00px;top:481px;font-size:10px;color:#000;transform:scaleX(1.0000);">-</span>
<span class="t" style="left:1490.00px;top:481px;font-size:10px;color:#000;transform:scaleX(1.0000);">-</span>
<span class="t" style="left:1560.00px;top:481px;font-size:10px;color:#000;transform:scaleX(1.0000);">-</span>
<span class="t" style="left:1622.00px;top:481px;font-size:10px;color:#000;transform:scaleX(1.0000);">-</span>
<span class="t" style="left:1684.00px;top:481px;font-size:10px;color:#000;transform:scaleX(1.0000);">-</span>
<span class="t" style="left:1746.00px;top:481px;font-size:10px;color:#000;transform:scaleX(1.0000);">-</span>
<span class="t" style="left:1812.00px;top:481px;font-size:10px;color:#000;transform:scaleX(1.0000);">-</span>
<span class="t" style="left:15.60px;top:498px;font-size:12px;color:#0000ff;transform:scaleX(0.9642);-webkit-text-stroke:0.15px #0000ff;">Duplex 3Bd 2/Bth</span>
<span class="t" style="left:276.10px;top:501px;font-size:10px;color:#0000ff;transform:scaleX(1.0324);-webkit-text-stroke:0.15px #0000ff;">Month 10</span>
<span class="t" style="left:369.10px;top:501px;font-size:10px;color:#0000ff;transform:scaleX(1.0324);-webkit-text-stroke:0.15px #0000ff;">Month 19</span>
<span class="t" style="left:450.80px;top:501px;font-size:10px;color:#0000ff;transform:scaleX(0.9591);-webkit-text-stroke:0.15px #0000ff;">Straight-Line</span>
<span class="t" style="left:567.88px;top:501px;font-size:10px;color:#000;transform:scaleX(1.0650);">21.07</span>
<span class="t" style="left:654.96px;top:501px;font-size:10px;color:#000;transform:scaleX(1.0650);">19,397</span>
<span class="t" style="left:733.15px;top:501px;font-size:10px;color:#0000ff;transform:scaleX(1.0650);">1,125,000</span>
<span class="t" style="left:798.30px;top:501px;font-size:10px;color:#000;transform:scaleX(0.9667);-webkit-text-stroke:0.05px #000;">Per comps</span>
<span class="t" style="left:1300.00px;top:501px;font-size:10px;color:#000;transform:scaleX(1.0000);">-</span>
<span class="t" style="left:1362.00px;top:501px;font-size:10px;color:#000;transform:scaleX(1.0000);">-</span>
<span class="t" style="left:1422.00px;top:501px;font-size:10px;color:#000;transform:scaleX(1.0000);">-</span>
<span class="t" style="left:1490.00px;top:501px;font-size:10px;color:#000;transform:scaleX(1.0000);">-</span>
<span class="t" style="left:1560.00px;top:501px;font-size:10px;color:#000;transform:scaleX(1.0000);">-</span>
<span class="t" style="left:1622.00px;top:501px;font-size:10px;color:#000;transform:scaleX(1.0000);">-</span>
<span class="t" style="left:1684.00px;top:501px;font-size:10px;color:#000;transform:scaleX(1.0000);">-</span>
<span class="t" style="left:1746.00px;top:501px;font-size:10px;color:#000;transform:scaleX(1.0000);">-</span>
<span class="t" style="left:1812.00px;top:501px;font-size:10px;color:#000;transform:scaleX(1.0000);">-</span>
<span class="t" style="left:15.60px;top:518px;font-size:12px;color:#0000ff;transform:scaleX(1.0009);-webkit-text-stroke:0.15px #0000ff;">Clubhouse/Amenities</span>
<span class="t" style="left:276.10px;top:521px;font-size:10px;color:#0000ff;transform:scaleX(1.0324);-webkit-text-stroke:0.15px #0000ff;">Month 13</span>
<span class="t" style="left:369.10px;top:521px;font-size:10px;color:#0000ff;transform:scaleX(1.0324);-webkit-text-stroke:0.15px #0000ff;">Month 18</span>
<span class="t" style="left:450.80px;top:521px;font-size:10px;color:#0000ff;transform:scaleX(0.9591);-webkit-text-stroke:0.15px #0000ff;">Straight-Line</span>
<span class="t" style="left:567.88px;top:521px;font-size:10px;color:#000;transform:scaleX(1.0650);">17.79</span>
<span class="t" style="left:654.96px;top:521px;font-size:10px;color:#000;transform:scaleX(1.0650);">16,379</span>
<span class="t" style="left:742.04px;top:521px;font-size:10px;color:#0000ff;transform:scaleX(1.0650);">950,000</span>
<span class="t" style="left:798.30px;top:521px;font-size:10px;color:#000;transform:scaleX(0.9811);-webkit-text-stroke:0.05px #000;">Estimate from previous projects</span>
<span class="t" style="left:1300.00px;top:521px;font-size:10px;color:#000;transform:scaleX(1.0000);">-</span>
<span class="t" style="left:1362.00px;top:521px;font-size:10px;color:#000;transform:scaleX(1.0000);">-</span>
<span class="t" style="left:1422.00px;top:521px;font-size:10px;color:#000;transform:scaleX(1.0000);">-</span>
<span class="t" style="left:1490.00px;top:521px;font-size:10px;color:#000;transform:scaleX(1.0000);">-</span>
<span class="t" style="left:1560.00px;top:521px;font-size:10px;color:#000;transform:scaleX(1.0000);">-</span>
<span class="t" style="left:1622.00px;top:521px;font-size:10px;color:#000;transform:scaleX(1.0000);">-</span>
<span class="t" style="left:1684.00px;top:521px;font-size:10px;color:#000;transform:scaleX(1.0000);">-</span>
<span class="t" style="left:1746.00px;top:521px;font-size:10px;color:#000;transform:scaleX(1.0000);">-</span>
<span class="t" style="left:1812.00px;top:521px;font-size:10px;color:#000;transform:scaleX(1.0000);">-</span>
<span class="t" style="left:15.60px;top:538px;font-size:12px;color:#0000ff;transform:scaleX(1.0279);-webkit-text-stroke:0.15px #0000ff;">[Item]</span>
<span class="t" style="left:282.40px;top:541px;font-size:10px;color:#0000ff;transform:scaleX(1.0172);-webkit-text-stroke:0.15px #0000ff;">Month 0</span>
<span class="t" style="left:375.40px;top:541px;font-size:10px;color:#0000ff;transform:scaleX(1.0172);-webkit-text-stroke:0.15px #0000ff;">Month 0</span>
<span class="t" style="left:450.80px;top:541px;font-size:10px;color:#0000ff;transform:scaleX(0.9591);-webkit-text-stroke:0.15px #0000ff;">Straight-Line</span>
<span class="t" style="left:592.00px;top:541px;font-size:10px;color:#000;transform:scaleX(1.0000);">-</span>
<span class="t" style="left:685.00px;top:541px;font-size:10px;color:#000;transform:scaleX(1.0000);">-</span>
<span class="t" style="left:778.00px;top:541px;font-size:10px;color:#0000ff;transform:scaleX(1.0000);">-</span>
<span class="t" style="left:1300.00px;top:541px;font-size:10px;color:#000;transform:scaleX(1.0000);">-</span>
<span class="t" style="left:1362.00px;top:541px;font-size:10px;color:#000;transform:scaleX(1.0000);">-</span>
<span class="t" style="left:1422.00px;top:541px;font-size:10px;color:#000;transform:scaleX(1.0000);">-</span>
<span class="t" style="left:1490.00px;top:541px;font-size:10px;color:#000;transform:scaleX(1.0000);">-</span>
<span class="t" style="left:1560.00px;top:541px;font-size:10px;color:#000;transform:scaleX(1.0000);">-</span>
<span class="t" style="left:1622.00px;top:541px;font-size:10px;color:#000;transform:scaleX(1.0000);">-</span>
<span class="t" style="left:1684.00px;top:541px;font-size:10px;color:#000;transform:scaleX(1.0000);">-</span>
<span class="t" style="left:1746.00px;top:541px;font-size:10px;color:#000;transform:scaleX(1.0000);">-</span>
<span class="t" style="left:1812.00px;top:541px;font-size:10px;color:#000;transform:scaleX(1.0000);">-</span>
<span class="t" style="left:6.90px;top:560px;font-size:12px;color:#000;transform:scaleX(0.9679);-webkit-text-stroke:0.15px #000;">Total Hard Costs (Vertical)</span>
<span class="t" style="left:282.40px;top:563px;font-size:10px;color:#000;transform:scaleX(1.0172);-webkit-text-stroke:0.15px #000;">Month 0</span>
<span class="t" style="left:369.10px;top:563px;font-size:10px;color:#000;transform:scaleX(1.0324);-webkit-text-stroke:0.15px #000;">Month 19</span>
<span class="t" style="left:561.96px;top:563px;font-size:10px;color:#000;transform:scaleX(1.0650);">174.27</span>
<span class="t" style="left:649.04px;top:563px;font-size:10px;color:#000;transform:scaleX(1.0650);">160,448</span>
<span class="t" style="left:733.15px;top:563px;font-size:10px;color:#000;transform:scaleX(1.0650);">9,306,000</span>
<span class="t" style="left:1300.00px;top:563px;font-size:10px;color:#000;transform:scaleX(1.0000);">-</span>
<span class="t" style="left:1362.00px;top:563px;font-size:10px;color:#000;transform:scaleX(1.0000);">-</span>
<span class="t" style="left:1422.00px;top:563px;font-size:10px;color:#000;transform:scaleX(1.0000);">-</span>
<span class="t" style="left:1490.00px;top:563px;font-size:10px;color:#000;transform:scaleX(1.0000);">-</span>
<span class="t" style="left:1560.00px;top:563px;font-size:10px;color:#000;transform:scaleX(1.0000);">-</span>
<span class="t" style="left:1597.88px;top:563px;font-size:10px;color:#000;transform:scaleX(1.0650);">4,418</span>
<span class="t" style="left:1653.96px;top:563px;font-size:10px;color:#000;transform:scaleX(1.0650);">26,134</span>
<span class="t" style="left:1710.04px;top:563px;font-size:10px;color:#000;transform:scaleX(1.0650);">212,433</span>
<span class="t" style="left:1776.04px;top:563px;font-size:10px;color:#000;transform:scaleX(1.0650);">532,086</span>
<span class="t" style="left:6.90px;top:586px;font-size:12px;color:#000;transform:scaleX(0.9810);-webkit-text-stroke:0.15px #000;">Soft Costs</span>
<span class="t" style="left:253.15px;top:587px;font-size:10px;color:#fff;transform:scaleX(0.9210);-webkit-text-stroke:0.25px #fff;">ADD ITEM</span>
<span class="t" style="left:345.90px;top:587px;font-size:10px;color:#fff;transform:scaleX(0.9101);-webkit-text-stroke:0.25px #fff;">DEL. ITEM</span>
<span class="t" style="left:15.60px;top:606px;font-size:12px;color:#0000ff;transform:scaleX(0.9713);-webkit-text-stroke:0.15px #0000ff;">Architecture &amp; Engineering</span>
<span class="t" style="left:282.40px;top:609px;font-size:10px;color:#0000ff;transform:scaleX(1.0172);-webkit-text-stroke:0.15px #0000ff;">Month 1</span>
<span class="t" style="left:369.10px;top:609px;font-size:10px;color:#0000ff;transform:scaleX(1.0324);-webkit-text-stroke:0.15px #0000ff;">Month 19</span>
<span class="t" style="left:450.80px;top:609px;font-size:10px;color:#0000ff;transform:scaleX(0.9591);-webkit-text-stroke:0.15px #0000ff;">Straight-Line</span>
<span class="t" style="left:567.88px;top:609px;font-size:10px;color:#000;transform:scaleX(1.0650);">10.46</span>
<span class="t" style="left:660.88px;top:609px;font-size:10px;color:#000;transform:scaleX(1.0650);">9,627</span>
<span class="t" style="left:742.04px;top:609px;font-size:10px;color:#0000ff;transform:scaleX(1.0650);">558,360</span>
<span class="t" style="left:798.30px;top:609px;font-size:10px;color:#000;transform:scaleX(0.9691);-webkit-text-stroke:0.05px #000;">6% of Hard Cost; per internal guidelines</span>
<span class="t" style="left:1300.00px;top:609px;font-size:10px;color:#000;transform:scaleX(1.0000);">-</span>
<span class="t" style="left:1331.96px;top:609px;font-size:10px;color:#000;transform:scaleX(1.0650);">29,387</span>
<span class="t" style="left:1391.96px;top:609px;font-size:10px;color:#000;transform:scaleX(1.0650);">29,387</span>
<span class="t" style="left:1459.96px;top:609px;font-size:10px;color:#000;transform:scaleX(1.0650);">29,387</span>
<span class="t" style="left:1529.96px;top:609px;font-size:10px;color:#000;transform:scaleX(1.0650);">29,387</span>
<span class="t" style="left:1591.96px;top:609px;font-size:10px;color:#000;transform:scaleX(1.0650);">29,387</span>
<span class="t" style="left:1653.96px;top:609px;font-size:10px;color:#000;transform:scaleX(1.0650);">29,387</span>
<span class="t" style="left:1715.96px;top:609px;font-size:10px;color:#000;transform:scaleX(1.0650);">29,387</span>
<span class="t" style="left:1781.96px;top:609px;font-size:10px;color:#000;transform:scaleX(1.0650);">29,387</span>
<span class="t" style="left:15.60px;top:626px;font-size:12px;color:#0000ff;transform:scaleX(0.9823);-webkit-text-stroke:0.15px #0000ff;">Construction Management</span>
<span class="t" style="left:282.40px;top:629px;font-size:10px;color:#0000ff;transform:scaleX(1.0172);-webkit-text-stroke:0.15px #0000ff;">Month 3</span>
<span class="t" style="left:369.10px;top:629px;font-size:10px;color:#0000ff;transform:scaleX(1.0324);-webkit-text-stroke:0.15px #0000ff;">Month 19</span>
<span class="t" style="left:450.80px;top:629px;font-size:10px;color:#0000ff;transform:scaleX(0.9591);-webkit-text-stroke:0.15px #0000ff;">Straight-Line</span>
<span class="t" style="left:573.81px;top:629px;font-size:10px;color:#000;transform:scaleX(1.0650);">3.49</span>
<span class="t" style="left:660.88px;top:629px;font-size:10px;color:#000;transform:scaleX(1.0650);">3,209</span>
<span class="t" style="left:742.04px;top:629px;font-size:10px;color:#0000ff;transform:scaleX(1.0650);">186,120</span>
<span class="t" style="left:798.30px;top:629px;font-size:10px;color:#000;transform:scaleX(0.9719);-webkit-text-stroke:0.05px #000;">2% of Hard Cost; per quote from CM</span>
<span class="t" style="left:1300.00px;top:629px;font-size:10px;color:#000;transform:scaleX(1.0000);">-</span>
<span class="t" style="left:1362.00px;top:629px;font-size:10px;color:#000;transform:scaleX(1.0000);">-</span>
<span class="t" style="left:1422.00px;top:629px;font-size:10px;color:#000;transform:scaleX(1.0000);">-</span>
<span class="t" style="left:1459.96px;top:629px;font-size:10px;color:#000;transform:scaleX(1.0650);">10,948</span>
<span class="t" style="left:1529.96px;top:629px;font-size:10px;color:#000;transform:scaleX(1.0650);">10,948</span>
<span class="t" style="left:1591.96px;top:629px;font-size:10px;color:#000;transform:scaleX(1.0650);">10,948</span>
<span class="t" style="left:1653.96px;top:629px;font-size:10px;color:#000;transform:scaleX(1.0650);">10,948</span>
<span class="t" style="left:1715.96px;top:629px;font-size:10px;color:#000;transform:scaleX(1.0650);">10,948</span>
<span class="t" style="left:1781.96px;top:629px;font-size:10px;color:#000;transform:scaleX(1.0650);">10,948</span>
<span class="t" style="left:15.60px;top:646px;font-size:12px;color:#0000ff;transform:scaleX(0.9508);-webkit-text-stroke:0.15px #0000ff;">Marketing and Leasing</span>
<span class="t" style="left:282.40px;top:649px;font-size:10px;color:#0000ff;transform:scaleX(1.0172);-webkit-text-stroke:0.15px #0000ff;">Month 9</span>
<span class="t" style="left:369.10px;top:649px;font-size:10px;color:#0000ff;transform:scaleX(1.0324);-webkit-text-stroke:0.15px #0000ff;">Month 19</span>
<span class="t" style="left:450.80px;top:649px;font-size:10px;color:#0000ff;transform:scaleX(0.9591);-webkit-text-stroke:0.15px #0000ff;">Straight-Line</span>
<span class="t" style="left:573.81px;top:649px;font-size:10px;color:#000;transform:scaleX(1.0650);">1.40</span>
<span class="t" style="left:660.88px;top:649px;font-size:10px;color:#000;transform:scaleX(1.0650);">1,293</span>
<span class="t" style="left:747.96px;top:649px;font-size:10px;color:#0000ff;transform:scaleX(1.0650);">75,000</span>
<span class="t" style="left:798.30px;top:649px;font-size:10px;color:#000;transform:scaleX(0.9749);-webkit-text-stroke:0.05px #000;">75k estimate</span>
<span class="t" style="left:1300.00px;top:649px;font-size:10px;color:#000;transform:scaleX(1.0000);">-</span>
<span class="t" style="left:1362.00px;top:649px;font-size:10px;color:#000;transform:scaleX(1.0000);">-</span>
<span class="t" style="left:1422.00px;top:649px;font-size:10px;color:#000;transform:scaleX(1.0000);">-</span>
<span class="t" style="left:1490.00px;top:649px;font-size:10px;color:#000;transform:scaleX(1.0000);">-</span>
<span class="t" style="left:1560.00px;top:649px;font-size:10px;color:#000;transform:scaleX(1.0000);">-</span>
<span class="t" style="left:1622.00px;top:649px;font-size:10px;color:#000;transform:scaleX(1.0000);">-</span>
<span class="t" style="left:1684.00px;top:649px;font-size:10px;color:#000;transform:scaleX(1.0000);">-</span>
<span class="t" style="left:1746.00px;top:649px;font-size:10px;color:#000;transform:scaleX(1.0000);">-</span>
<span class="t" style="left:1812.00px;top:649px;font-size:10px;color:#000;transform:scaleX(1.0000);">-</span>
<span class="t" style="left:15.60px;top:666px;font-size:12px;color:#0000ff;transform:scaleX(1.0279);-webkit-text-stroke:0.15px #0000ff;">[Item]</span>
<span class="t" style="left:282.40px;top:669px;font-size:10px;color:#0000ff;transform:scaleX(1.0172);-webkit-text-stroke:0.15px #0000ff;">Month 0</span>
<span class="t" style="left:375.40px;top:669px;font-size:10px;color:#0000ff;transform:scaleX(1.0172);-webkit-text-stroke:0.15px #0000ff;">Month 0</span>
<span class="t" style="left:450.80px;top:669px;font-size:10px;color:#0000ff;transform:scaleX(0.9591);-webkit-text-stroke:0.15px #0000ff;">Straight-Line</span>
<span class="t" style="left:592.00px;top:669px;font-size:10px;color:#000;transform:scaleX(1.0000);">-</span>
<span class="t" style="left:685.00px;top:669px;font-size:10px;color:#000;transform:scaleX(1.0000);">-</span>
<span class="t" style="left:778.00px;top:669px;font-size:10px;color:#0000ff;transform:scaleX(1.0000);">-</span>
<span class="t" style="left:1300.00px;top:669px;font-size:10px;color:#000;transform:scaleX(1.0000);">-</span>
<span class="t" style="left:1362.00px;top:669px;font-size:10px;color:#000;transform:scaleX(1.0000);">-</span>
<span class="t" style="left:1422.00px;top:669px;font-size:10px;color:#000;transform:scaleX(1.0000);">-</span>
<span class="t" style="left:1490.00px;top:669px;font-size:10px;color:#000;transform:scaleX(1.0000);">-</span>
<span class="t" style="left:1560.00px;top:669px;font-size:10px;color:#000;transform:scaleX(1.0000);">-</span>
<span class="t" style="left:1622.00px;top:669px;font-size:10px;color:#000;transform:scaleX(1.0000);">-</span>
<span class="t" style="left:1684.00px;top:669px;font-size:10px;color:#000;transform:scaleX(1.0000);">-</span>
<span class="t" style="left:1746.00px;top:669px;font-size:10px;color:#000;transform:scaleX(1.0000);">-</span>
<span class="t" style="left:1812.00px;top:669px;font-size:10px;color:#000;transform:scaleX(1.0000);">-</span>
</body></html>
